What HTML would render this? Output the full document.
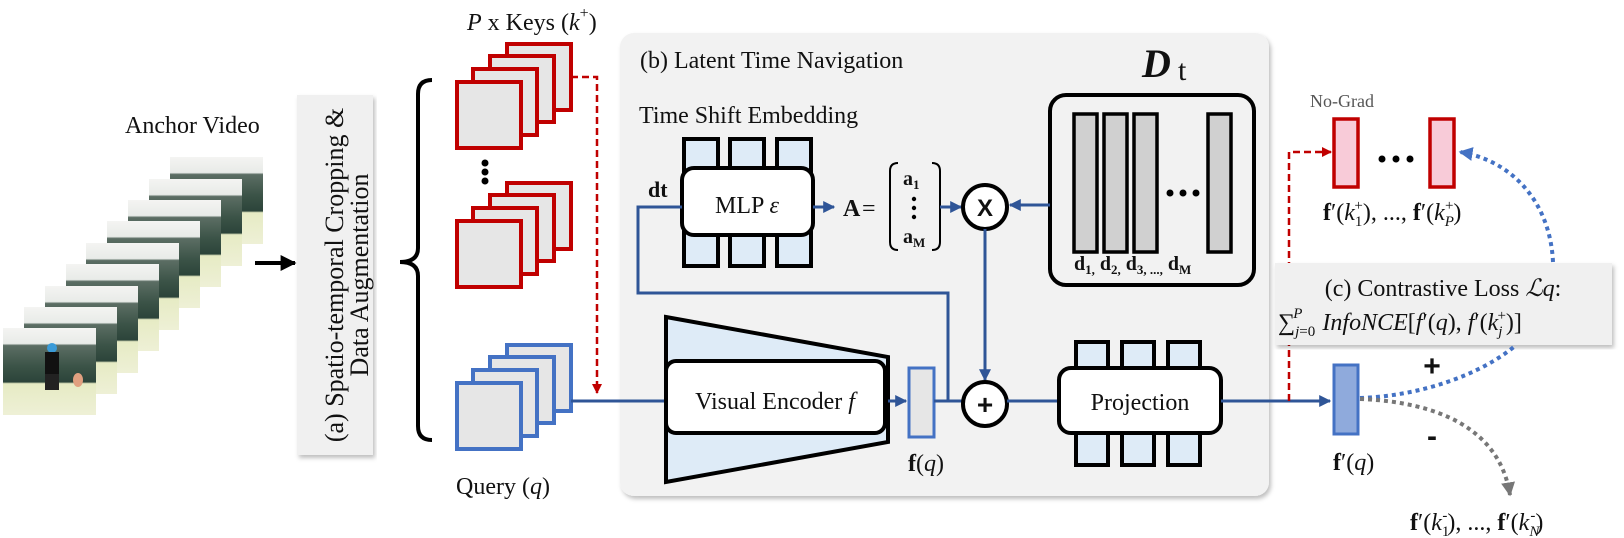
<!DOCTYPE html>
<html><head><meta charset="utf-8"><style>
html,body{margin:0;padding:0;background:#fff}
svg{display:block}
text{font-family:"Liberation Serif",serif;fill:#111}
</style></head><body>
<svg width="1624" height="538" viewBox="0 0 1624 538" xmlns="http://www.w3.org/2000/svg">
<defs>
<filter id="sh" x="-5%" y="-5%" width="110%" height="110%"><feDropShadow dx="2" dy="3" stdDeviation="2" flood-color="#000" flood-opacity="0.25"/></filter>
<linearGradient id="vid" x1="0" y1="0" x2="0" y2="1">
<stop offset="0" stop-color="#f4f4f2"/><stop offset="0.18" stop-color="#e8ebe8"/>
<stop offset="0.2" stop-color="#5c6e64"/><stop offset="0.45" stop-color="#3a5246"/>
<stop offset="0.62" stop-color="#2c443a"/><stop offset="0.64" stop-color="#e6ebc4"/>
<stop offset="1" stop-color="#eef0d6"/></linearGradient>
<marker id="ab" viewBox="0 0 10 10" refX="9" refY="5" markerWidth="4" markerHeight="4" orient="auto"><path d="M0,0 L10,5 L0,10z" fill="#2f5597"/></marker>
<marker id="ar" viewBox="0 0 10 10" refX="9" refY="5" markerWidth="4" markerHeight="4" orient="auto"><path d="M0,0 L10,5 L0,10z" fill="#c00000"/></marker>
<marker id="ak" viewBox="0 0 10 10" refX="9" refY="5" markerWidth="4" markerHeight="4" orient="auto"><path d="M0,0 L10,5 L0,10z" fill="#000"/></marker>
<marker id="abl" viewBox="0 0 10 10" refX="9" refY="5" markerWidth="3.5" markerHeight="3.5" orient="auto"><path d="M0,0 L10,5 L0,10z" fill="#4472c4"/></marker>
<marker id="ag" viewBox="0 0 10 10" refX="9" refY="5" markerWidth="3.5" markerHeight="3.5" orient="auto"><path d="M0,0 L10,5 L0,10z" fill="#777"/></marker>
</defs>

<!-- Anchor video -->
<text x="125" y="133" font-size="24">Anchor Video</text>
<g>
<rect x="170" y="157" width="93" height="87" fill="url(#vid)"/>
<rect x="149" y="179" width="93" height="87" fill="url(#vid)"/>
<rect x="128" y="200" width="93" height="87" fill="url(#vid)"/>
<rect x="107" y="221" width="93" height="87" fill="url(#vid)"/>
<rect x="86" y="243" width="93" height="87" fill="url(#vid)"/>
<rect x="66" y="264" width="93" height="87" fill="url(#vid)"/>
<rect x="45" y="286" width="93" height="87" fill="url(#vid)"/>
<rect x="24" y="307" width="93" height="87" fill="url(#vid)"/>
<rect x="3" y="328" width="93" height="87" fill="url(#vid)"/>
<circle cx="52" cy="348" r="5" fill="#3a9bd8"/>
<rect x="45" y="352" width="14" height="22" fill="#111"/>
<rect x="45" y="374" width="14" height="16" fill="#222"/>
<ellipse cx="78" cy="380" rx="5" ry="7" fill="#e0a080"/>
</g>
<line x1="255" y1="263" x2="295" y2="263" stroke="#000" stroke-width="4" marker-end="url(#ak)"/>

<!-- (a) box -->
<rect x="297" y="95" width="76" height="360" fill="#f0f0f0" filter="url(#sh)"/>
<text transform="translate(343,275) rotate(-90)" font-size="26" text-anchor="middle">(a) Spatio-temporal Cropping &amp;</text>
<text transform="translate(368,275) rotate(-90)" font-size="26" text-anchor="middle">Data Augmentation</text>

<!-- brace -->
<path d="M432,80 Q418,80 418,94 L418,248 Q418,262 400,262 Q418,262 418,276 L418,426 Q418,440 432,440" fill="none" stroke="#000" stroke-width="4"/>

<!-- keys -->
<text x="467" y="30" font-size="24"><tspan font-style="italic">P</tspan> x Keys (<tspan font-style="italic">k</tspan><tspan font-size="16" dy="-12">+</tspan><tspan dy="12">)</tspan></text>
<g fill="#e6e6e6" stroke="#c00000" stroke-width="4">
<rect x="507" y="44" width="64" height="66"/><rect x="490" y="56" width="64" height="66"/><rect x="473" y="69" width="64" height="66"/><rect x="457" y="82" width="64" height="66"/>
<rect x="507" y="183" width="64" height="66"/><rect x="490" y="195" width="64" height="66"/><rect x="473" y="208" width="64" height="66"/><rect x="457" y="221" width="64" height="66"/>
</g>
<g fill="#000"><circle cx="485" cy="163" r="3.5"/><circle cx="485" cy="172" r="3.5"/><circle cx="485" cy="181" r="3.5"/></g>
<g fill="#e6e6e6" stroke="#4472c4" stroke-width="4">
<rect x="507" y="345" width="64" height="66"/><rect x="490" y="357" width="64" height="66"/><rect x="473" y="370" width="64" height="66"/><rect x="457" y="383" width="64" height="66"/>
</g>
<text x="456" y="494" font-size="24">Query (<tspan font-style="italic">q</tspan>)</text>
<path d="M571,77 L597,77 L597,393" fill="none" stroke="#c00000" stroke-width="2.5" stroke-dasharray="7,4" marker-end="url(#ar)"/>

<!-- panel -->
<rect x="620" y="33" width="649" height="463" rx="14" fill="#f2f2f2" filter="url(#sh)"/>
<text x="640" y="68" font-size="24">(b) Latent Time Navigation</text>
<text x="639" y="123" font-size="24">Time Shift Embedding</text>

<!-- main line -->
<line x1="571" y1="401" x2="666" y2="401" stroke="#2f5597" stroke-width="3"/>

<!-- MLP -->
<g fill="#deebf7" stroke="#000" stroke-width="4">
<rect x="684" y="139" width="34" height="127"/><rect x="730" y="139" width="34" height="127"/><rect x="777" y="139" width="34" height="127"/>
<rect x="682" y="168" width="131" height="67" rx="12" fill="#fff"/>
</g>
<text x="747" y="213" font-size="24" text-anchor="middle">MLP <tspan font-style="italic">ε</tspan></text>
<text x="648" y="197" font-size="22" font-weight="bold">dt</text>
<path d="M682,207 L638,207 L638,293 L948,293 L948,401" fill="none" stroke="#2f5597" stroke-width="3"/>
<line x1="813" y1="207" x2="834" y2="207" stroke="#2f5597" stroke-width="3" marker-end="url(#ab)"/>
<text x="843" y="216" font-size="24" font-weight="bold">A</text><text x="862" y="216" font-size="24">=</text>
<path d="M898,163 Q890,163 890,171 L890,242 Q890,250 898,250 M932,163 Q940,163 940,171 L940,242 Q940,250 932,250" fill="none" stroke="#000" stroke-width="2"/>
<text x="903" y="185" font-size="20" font-weight="bold">a<tspan font-size="13" dy="4">1</tspan></text>
<g fill="#000"><circle cx="914" cy="199" r="2.2"/><circle cx="914" cy="208" r="2.2"/><circle cx="914" cy="217" r="2.2"/></g>
<text x="903" y="243" font-size="20" font-weight="bold">a<tspan font-size="13" dy="4">M</tspan></text>
<line x1="940" y1="207" x2="961" y2="207" stroke="#2f5597" stroke-width="3" marker-end="url(#ab)"/>
<circle cx="985" cy="207" r="22" fill="#fff" stroke="#000" stroke-width="4"/>
<text x="985" y="216" font-size="24" font-weight="bold" text-anchor="middle" style="font-family:'Liberation Sans',sans-serif">X</text>
<line x1="985" y1="229" x2="985" y2="380" stroke="#2f5597" stroke-width="3" marker-end="url(#ab)"/>

<!-- D_t -->
<text x="1142" y="77" font-size="40" font-weight="bold" font-style="italic">D</text><text x="1178" y="80" font-size="30">t</text>
<rect x="1050" y="95" width="204" height="190" rx="16" fill="none" stroke="#000" stroke-width="4"/>
<g fill="#d0d0d0" stroke="#000" stroke-width="3.5">
<rect x="1074" y="114" width="23" height="138"/><rect x="1104" y="114" width="23" height="138"/><rect x="1134" y="114" width="23" height="138"/><rect x="1208" y="114" width="23" height="138"/>
</g>
<g fill="#000"><circle cx="1170" cy="193" r="3.5"/><circle cx="1183" cy="193" r="3.5"/><circle cx="1196" cy="193" r="3.5"/></g>
<text x="1074" y="270" font-size="20" font-weight="bold">d<tspan font-size="13" dy="4">1,</tspan><tspan dy="-4"> d</tspan><tspan font-size="13" dy="4">2,</tspan><tspan dy="-4"> d</tspan><tspan font-size="13" dy="4">3, ...,</tspan><tspan dy="-4"> d</tspan><tspan font-size="13" dy="4">M</tspan></text>
<line x1="1050" y1="205" x2="1010" y2="205" stroke="#2f5597" stroke-width="3" marker-end="url(#ab)"/>

<!-- encoder -->
<path d="M666,317 L888,357 L888,442 L666,482 Z" fill="#deebf7" stroke="#000" stroke-width="4"/>
<rect x="666" y="361" width="219" height="72" rx="10" fill="#fff" stroke="#000" stroke-width="4"/>
<text x="775" y="409" font-size="24" text-anchor="middle">Visual Encoder <tspan font-style="italic">f</tspan></text>
<line x1="888" y1="401" x2="906" y2="401" stroke="#2f5597" stroke-width="3" marker-end="url(#ab)"/>
<rect x="909" y="368" width="25" height="69" fill="#e6e6e6" stroke="#4472c4" stroke-width="3"/>
<text x="908" y="471" font-size="24"><tspan font-weight="bold">f</tspan>(<tspan font-style="italic">q</tspan>)</text>
<line x1="934" y1="401" x2="963" y2="401" stroke="#2f5597" stroke-width="3"/>
<circle cx="985" cy="404" r="22" fill="#fff" stroke="#000" stroke-width="4"/>
<text x="985" y="414" font-size="28" font-weight="bold" text-anchor="middle" style="font-family:'Liberation Sans',sans-serif">+</text>
<line x1="1007" y1="401" x2="1059" y2="401" stroke="#2f5597" stroke-width="3"/>

<!-- projection -->
<g fill="#deebf7" stroke="#000" stroke-width="4">
<rect x="1076" y="342" width="32" height="123"/><rect x="1122" y="342" width="32" height="123"/><rect x="1168" y="342" width="32" height="123"/>
<rect x="1059" y="368" width="162" height="65" rx="12" fill="#fff"/>
</g>
<text x="1140" y="410" font-size="24" text-anchor="middle">Projection</text>
<line x1="1221" y1="401" x2="1330" y2="401" stroke="#2f5597" stroke-width="3" marker-end="url(#ab)"/>

<!-- right side -->
<path d="M1289,401 L1289,152 L1331,152" fill="none" stroke="#c00000" stroke-width="2.5" stroke-dasharray="7,4" marker-end="url(#ar)"/>
<text x="1310" y="107" font-size="18" style="fill:#555">No-Grad</text>
<rect x="1334" y="119" width="24" height="68" fill="#f8cbd8" stroke="#c00000" stroke-width="3.5"/>
<rect x="1430" y="119" width="24" height="68" fill="#f8cbd8" stroke="#c00000" stroke-width="3.5"/>
<g fill="#000"><circle cx="1382" cy="159" r="3.5"/><circle cx="1396" cy="159" r="3.5"/><circle cx="1410" cy="159" r="3.5"/></g>
<text x="1323" y="220" font-size="24"><tspan font-weight="bold">f</tspan>′(<tspan font-style="italic">k</tspan><tspan font-size="15" dy="6">1</tspan><tspan font-size="15" dx="-8" dy="-16">+</tspan><tspan dy="10">), ..., </tspan><tspan font-weight="bold">f</tspan>′(<tspan font-style="italic">k</tspan><tspan font-size="15" font-style="italic" dy="6">P</tspan><tspan font-size="15" dx="-9" dy="-16">+</tspan><tspan dy="10">)</tspan></text>

<path d="M1553,262 C1550,200 1510,160 1460,152" fill="none" stroke="#4472c4" stroke-width="4" stroke-dasharray="4,4" marker-end="url(#abl)"/>
<rect x="1275" y="263" width="337" height="82" fill="#f0f0f0" filter="url(#sh)"/>
<text x="1443" y="296" font-size="24" text-anchor="middle">(c) Contrastive Loss <tspan font-style="italic">ℒq</tspan>:</text>
<text x="1278" y="330" font-size="24">∑<tspan font-size="15" font-style="italic" dy="6">j</tspan><tspan font-size="15" dy="0">=0</tspan><tspan font-size="15" font-style="italic" dx="-22" dy="-18">P</tspan><tspan font-style="italic" dx="14" dy="12"> InfoNCE</tspan>[<tspan font-style="italic">f</tspan>′(<tspan font-style="italic">q</tspan>), <tspan font-style="italic">f</tspan>′(<tspan font-style="italic">k</tspan><tspan font-size="15" font-style="italic" dy="6">j</tspan><tspan font-size="15" dx="-5" dy="-16">+</tspan><tspan dy="10">)]</tspan></text>

<rect x="1334" y="365" width="24" height="69" fill="#8faadc" stroke="#4472c4" stroke-width="3"/>
<path d="M1360,398 C1420,396 1480,375 1515,346" fill="none" stroke="#4472c4" stroke-width="4" stroke-dasharray="4,4"/>
<path d="M1360,399 C1440,402 1500,430 1510,495" fill="none" stroke="#777" stroke-width="4" stroke-dasharray="4,4" marker-end="url(#ag)"/>
<text x="1432" y="376" font-size="30" font-weight="bold" text-anchor="middle" style="font-family:'Liberation Sans',sans-serif">+</text>
<text x="1432" y="446" font-size="30" font-weight="bold" text-anchor="middle" style="font-family:'Liberation Sans',sans-serif">-</text>
<text x="1333" y="470" font-size="24"><tspan font-weight="bold">f</tspan>′(<tspan font-style="italic">q</tspan>)</text>
<text x="1410" y="530" font-size="24"><tspan font-weight="bold">f</tspan>′(<tspan font-style="italic">k</tspan><tspan font-size="15" dy="6">1</tspan><tspan font-size="15" dx="-7" dy="-16">-</tspan><tspan dy="10">), ..., </tspan><tspan font-weight="bold">f</tspan>′(<tspan font-style="italic">k</tspan><tspan font-size="15" font-style="italic" dy="6">N</tspan><tspan font-size="15" dx="-9" dy="-16">-</tspan><tspan dy="10">)</tspan></text>
</svg>
</body></html>
